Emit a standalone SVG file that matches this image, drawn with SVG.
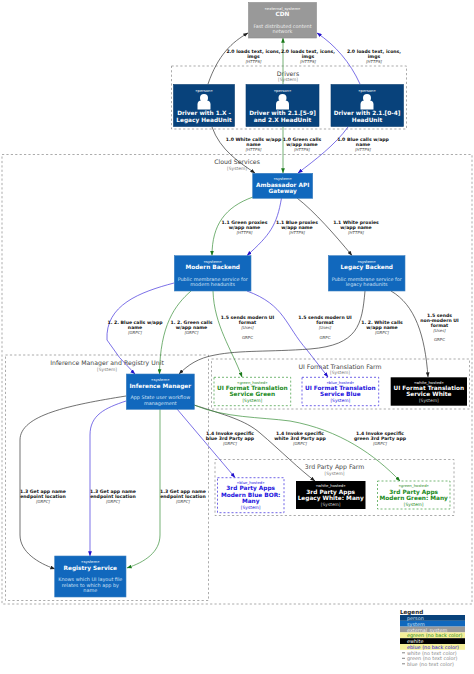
<svg xmlns="http://www.w3.org/2000/svg" width="474" height="674" viewBox="0 0 474 674">
<style>
text{font-family:"DejaVu Sans",sans-serif;text-anchor:middle}
.b{fill:none;stroke:#888;stroke-width:.7;stroke-dasharray:2.2 2.2}
.bt{font-size:6.2px;fill:#444}
.bs{font-size:4.4px;fill:#777}
.l{font-size:4.6px;font-weight:bold;fill:#111}
.li{font-size:4px;font-style:italic;fill:#444}
.lu{font-size:4px;fill:#444}
.st{font-size:3.8px;fill:#fff}
.t{font-size:5.8px;font-weight:bold;fill:#fff}
.d{font-size:4.9px;fill:#cfe0f5}
.e{fill:none;stroke-width:.7}
.k{stroke:#333;marker-end:url(#ak)}.g{stroke:#3a8f3a;marker-end:url(#ag)}.u{stroke:#4433dd;marker-end:url(#au)}
.sys{fill:#1168bd;stroke:#3c7fc0;stroke-width:.6}.per{fill:#08427b;stroke:#073b6f;stroke-width:.6}
.lg{font-size:4.9px;text-anchor:start}
</style>
<defs>
<marker id="ak" viewBox="0 0 8 6" refX="7.5" refY="3" markerWidth="5" markerHeight="4" markerUnits="userSpaceOnUse" orient="auto"><path d="M0 0L8 3L0 6z" fill="#222"/></marker>
<marker id="ag" viewBox="0 0 8 6" refX="7.5" refY="3" markerWidth="5" markerHeight="4" markerUnits="userSpaceOnUse" orient="auto"><path d="M0 0L8 3L0 6z" fill="#1a7a1a"/></marker>
<marker id="au" viewBox="0 0 8 6" refX="7.5" refY="3" markerWidth="5" markerHeight="4" markerUnits="userSpaceOnUse" orient="auto"><path d="M0 0L8 3L0 6z" fill="#2211cc"/></marker>
<g id="pi"><circle cx="0" cy="0" r="4" fill="#fff"/><path d="M-6.500 11.500v-5q0-4 4-4h5q4 0 4 4v5z" fill="#fff"/></g>
</defs>

<g id="boundaries">
<rect class="b" x="171.500" y="66" width="235" height="63"/>
<text class="bt" x="288" y="75.500">Drivers</text><text class="bs" x="288" y="81">[System]</text>
<rect class="b" x="2" y="154.500" width="470" height="449.500"/>
<text class="bt" x="237" y="164">Cloud Services</text><text class="bs" x="237" y="169.500">[System]</text>
<rect class="b" x="5.500" y="355" width="203" height="245.500"/>
<text class="bt" x="107" y="365">Inference Manager and Registry Unit</text><text class="bs" x="107" y="370.500">[System]</text>
<rect class="b" x="211.500" y="359" width="258" height="50"/>
<text class="bt" x="340" y="368.500">UI Format Translation Farm</text><text class="bs" x="340" y="373.500">[System]</text>
<rect class="b" x="215" y="459.500" width="239" height="56"/>
<text class="bt" x="334.500" y="469">3rd Party App Farm</text><text class="bs" x="334.500" y="474.500">[System]</text>
</g>

<g id="connectors">
<path class="e k" d="M208 84C218 55 232 42 248 33"/>
<path class="e g" d="M283 84V38"/>
<path class="e u" d="M360 84C350 62 335 45 317 33"/>
<path class="e k" d="M212 127C220 150 240 163 255 173"/>
<path class="e g" d="M283 127V173"/>
<path class="e u" d="M348 127C335 145 315 160 298 173"/>
<path class="e g" d="M253 197C225 207 212 225 212 255.500"/>
<path class="e u" d="M281.500 198C277 225 270 235 247 255.500"/>
<path class="e k" d="M297 198C315 212 335 235 352 255.500"/>
<path class="e u" d="M174 283C140 292 105 305 107 340Q118 358 135 374"/>
<path class="e g" d="M191 291C175 305 160 325 159.500 374"/>
<path class="e g" d="M213 291C214 325 232 350 242 377"/>
<path class="e u" d="M247 291C285 305 285 325 307 350L328 377"/>
<path class="e k" d="M365 291C362 325 358 345 310 349C270 352 240 350 215 355C198 358 188 365 179 374"/>
<path class="e k" d="M391 291C415 305 425 335 428 377"/>
<path class="e k" d="M126 396C70 405 20 415 20 440V535C20 552 38 563 55 569"/>
<path class="e u" d="M126 401C105 408 90 415 90 435V556"/>
<path class="e g" d="M160 409V535C160 552 145 562 127 568"/>
<path class="e u" d="M177 409L235 477.500"/>
<path class="e k" d="M194 405C225 415 245 420 260 433C280 450 300 470 315 481"/>
<path class="e g" d="M194 405C225 418 260 417 290 421C340 430 375 455 400 481"/>
</g>

<g id="edge-labels">
<g><text class="l" x="253.500" y="52.500">2.0 loads text, icons,</text><text class="l" x="253.500" y="57.500">imgs</text><text class="li" x="253.500" y="62.500">[HTTPS]</text></g>
<g><text class="l" x="308" y="52.500">2.0 loads text, icons,</text><text class="l" x="308" y="57.500">imgs</text><text class="li" x="308" y="62.500">[HTTPS]</text></g>
<g><text class="l" x="374" y="52.500">2.0 loads text, icons,</text><text class="l" x="374" y="57.500">imgs</text><text class="li" x="374" y="62.500">[HTTPS]</text></g>
<g><text class="l" x="253.500" y="141">1.0 White calls w/app</text><text class="l" x="253.500" y="146">name</text><text class="li" x="253.500" y="151">[HTTPS]</text></g>
<g><text class="l" x="302" y="141">1.0 Green calls</text><text class="l" x="302" y="146">w/app name</text><text class="li" x="302" y="151">[HTTPS]</text></g>
<g><text class="l" x="363" y="141">1.0 Blue calls w/app</text><text class="l" x="363" y="146">name</text><text class="li" x="363" y="151">[HTTPS]</text></g>
<g><text class="l" x="244.500" y="223.500">1.1 Green proxies</text><text class="l" x="244.500" y="228.500">w/app name</text><text class="li" x="244.500" y="233.500">[HTTPS]</text></g>
<g><text class="l" x="297" y="223.500">1.1 Blue proxies</text><text class="l" x="297" y="228.500">w/app name</text><text class="li" x="297" y="233.500">[HTTPS]</text></g>
<g><text class="l" x="356" y="223.500">1.1 White proxies</text><text class="l" x="356" y="228.500">w/app name</text><text class="li" x="356" y="233.500">[HTTPS]</text></g>
<g><text class="l" x="135" y="324">1. 2. Blue calls w/app</text><text class="l" x="135" y="329">name</text><text class="li" x="135" y="334">[GRPC]</text></g>
<g><text class="l" x="191.500" y="324">1. 2. Green calls</text><text class="l" x="191.500" y="329">w/app name</text><text class="li" x="191.500" y="334">[GRPC]</text></g>
<g><text class="l" x="247.500" y="319">1.5 sends modern UI</text><text class="l" x="247.500" y="324">format</text><text class="li" x="247.500" y="329">[Uses]</text><text class="lu" x="247.500" y="339">GRPC</text></g>
<g><text class="l" x="325" y="319">1.5 sends modern UI</text><text class="l" x="325" y="324">format</text><text class="li" x="325" y="329">[Uses]</text><text class="lu" x="325" y="339">GRPC</text></g>
<g><text class="l" x="382" y="324">1. 2. White calls</text><text class="l" x="382" y="329">w/app name</text><text class="li" x="382" y="334">[GRPC]</text></g>
<g><text class="l" x="439.500" y="316.500">1.5 sends</text><text class="l" x="439.500" y="321.500">non-modern UI</text><text class="l" x="439.500" y="326.500">format</text><text class="li" x="439.500" y="331.500">[Uses]</text><text class="lu" x="439.500" y="341">GRPC</text></g>
<g><text class="l" x="230" y="435">1.4 Invoke specific</text><text class="l" x="230" y="440">blue 3rd Party app</text><text class="li" x="230" y="445">[GRPC]</text></g>
<g><text class="l" x="300" y="435">1.4 Invoke specific</text><text class="l" x="300" y="440">white 3rd Party app</text><text class="li" x="300" y="445">[GRPC]</text></g>
<g><text class="l" x="380" y="435">1.4 Invoke specific</text><text class="l" x="380" y="440">green 3rd Party app</text><text class="li" x="380" y="445">[GRPC]</text></g>
<g><text class="l" x="43" y="492.500">1.3 Get app name</text><text class="l" x="43" y="497.500">endpoint location</text><text class="li" x="43" y="502.500">[GRPC]</text></g>
<g><text class="l" x="113" y="492.500">1.3 Get app name</text><text class="l" x="113" y="497.500">endpoint location</text><text class="li" x="113" y="502.500">[GRPC]</text></g>
<g><text class="l" x="183" y="492.500">1.3 Get app name</text><text class="l" x="183" y="497.500">endpoint location</text><text class="li" x="183" y="502.500">[GRPC]</text></g>
</g>

<g id="cdn"><rect x="248.500" y="2.500" width="68" height="35.500" fill="#999" stroke="#8a8a8a" stroke-width=".6"/>
<text class="st" x="282.500" y="9.500">«external_system»</text><text class="t" x="282.500" y="16">CDN</text><text class="d" x="282.500" y="27.500" style="fill:#eee">Fast distributed content</text><text class="d" x="282.500" y="33" style="fill:#eee">network</text></g>

<g id="driver1"><rect class="per" x="173.500" y="84.500" width="61" height="42"/><text class="st" x="204" y="92">«person»</text><use href="#pi" x="204" y="98"/><text class="t" x="204" y="115">Driver with 1.X -</text><text class="t" x="204" y="121.500">Legacy HeadUnit</text></g>
<g id="driver2"><rect class="per" x="246" y="84.500" width="73" height="42"/><text class="st" x="282.500" y="92">«person»</text><use href="#pi" x="282.500" y="98"/><text class="t" x="282.500" y="115">Driver with 2.1.[5-9]</text><text class="t" x="282.500" y="121.500">and 2.X HeadUnit</text></g>
<g id="driver3"><rect class="per" x="331" y="84.500" width="72.500" height="42"/><text class="st" x="367" y="92">«person»</text><use href="#pi" x="367" y="98"/><text class="t" x="367" y="115">Driver with 2.1.[0-4]</text><text class="t" x="367" y="121.500">HeadUnit</text></g>

<g id="gateway"><rect class="sys" x="252.700" y="173.300" width="60" height="25"/><text class="st" x="282.700" y="180">«system»</text><text class="t" x="282.700" y="186.800">Ambassador API</text><text class="t" x="282.700" y="193">Gateway</text></g>
<g id="modern"><rect class="sys" x="174.300" y="255.700" width="76.700" height="35.300"/><text class="st" x="212.700" y="262.500">«system»</text><text class="t" x="212.700" y="269">Modern Backend</text><text class="d" x="212.700" y="280.500">Public membrane service for</text><text class="d" x="212.700" y="286">modern headunits</text></g>
<g id="legacy"><rect class="sys" x="328.300" y="255.700" width="76.700" height="35.300"/><text class="st" x="366.700" y="262.500">«system»</text><text class="t" x="366.700" y="269">Legacy Backend</text><text class="d" x="366.700" y="280.500">Public membrane service for</text><text class="d" x="366.700" y="286">legacy headunits</text></g>
<g id="inference"><rect class="sys" x="126.300" y="374" width="68" height="35.300"/><text class="st" x="160.300" y="381">«system»</text><text class="t" x="160.300" y="387.800">Inference Manager</text><text class="d" x="160.300" y="399.300">App State user workflow</text><text class="d" x="160.300" y="404.800">management</text></g>
<g id="registry"><rect class="sys" x="54.700" y="556" width="71.300" height="41"/><text class="st" x="90.300" y="563">«system»</text><text class="t" x="90.300" y="569.700">Registry Service</text><text class="d" x="90.300" y="581">Knows which UI layout file</text><text class="d" x="90.300" y="586.500">relates to which app by</text><text class="d" x="90.300" y="592">name</text></g>

<g id="ui-green"><rect x="214" y="377.300" width="76.700" height="28.400" fill="#fff" stroke="#3a9a3a" stroke-width=".7" stroke-dasharray="2 2"/><text class="st" x="252.300" y="383.500" style="fill:#1a8a1a">«green_hosted»</text><text class="t" x="252.300" y="390" style="fill:#1a8a1a">UI Format Translation</text><text class="t" x="252.300" y="396.300" style="fill:#1a8a1a">Service Green</text><text class="bs" x="252.300" y="401.500" style="fill:#1a8a1a">[System]</text></g>
<g id="ui-blue"><rect x="302" y="377.300" width="76.700" height="28.400" fill="#fff" stroke="#3322dd" stroke-width=".7" stroke-dasharray="2 2"/><text class="st" x="340.300" y="383.500" style="fill:#2211dd">«blue_hosted»</text><text class="t" x="340.300" y="390" style="fill:#2211dd">UI Format Translation</text><text class="t" x="340.300" y="396.300" style="fill:#2211dd">Service Blue</text><text class="bs" x="340.300" y="401.500" style="fill:#2211dd">[System]</text></g>
<g id="ui-white"><rect x="390.700" y="377.300" width="76.300" height="28.400" fill="#000"/><text class="st" x="428.800" y="383.500">«white_hosted»</text><text class="t" x="428.800" y="390">UI Format Translation</text><text class="t" x="428.800" y="396.300">Service White</text><text class="bs" x="428.800" y="401.500" style="fill:#ccc">[System]</text></g>

<g id="app-blue"><rect x="217.500" y="477.700" width="66.500" height="35" fill="#fff" stroke="#3322dd" stroke-width=".7" stroke-dasharray="2 2"/><text class="st" x="250.700" y="483.500" style="fill:#2211dd">«blue_hosted»</text><text class="t" x="250.700" y="490" style="fill:#2211dd">3rd Party Apps</text><text class="t" x="250.700" y="496.500" style="fill:#2211dd">Modern Blue BOR:</text><text class="t" x="250.700" y="503" style="fill:#2211dd">Many</text><text class="bs" x="250.700" y="508.500" style="fill:#2211dd">[System]</text></g>
<g id="app-white"><rect x="296" y="481" width="69.500" height="28" fill="#000"/><text class="st" x="330.700" y="487">«white_hosted»</text><text class="t" x="330.700" y="493.500">3rd Party Apps</text><text class="t" x="330.700" y="500">Legacy White: Many</text><text class="bs" x="330.700" y="505.500" style="fill:#ccc">[System]</text></g>
<g id="app-green"><rect x="377.500" y="481" width="72.500" height="28" fill="#fff" stroke="#3a9a3a" stroke-width=".7" stroke-dasharray="2 2"/><text class="st" x="413.700" y="487" style="fill:#1a8a1a">«green_hosted»</text><text class="t" x="413.700" y="493.500" style="fill:#1a8a1a">3rd Party Apps</text><text class="t" x="413.700" y="500" style="fill:#1a8a1a">Modern Green: Many</text><text class="bs" x="413.700" y="505.500" style="fill:#1a8a1a">[System]</text></g>

<g id="legend">
<text x="400" y="614" style="font-size:5.600px;font-weight:bold;text-anchor:start;fill:#222">Legend</text>
<rect x="400" y="615" width="65" height="5.800" fill="#08427b"/>
<rect x="400" y="620.800" width="65" height="5.800" fill="#1168bd"/>
<rect x="400" y="626.600" width="65" height="5.800" fill="#999"/>
<rect x="400" y="632.400" width="65" height="5.800" fill="#f5ef9a"/>
<rect x="400" y="638.200" width="65" height="5.800" fill="#000"/>
<rect x="400" y="644" width="65" height="5.800" fill="#f5ef9a"/>
<text class="lg" x="407" y="620" fill="#cfe0f5">person</text>
<text class="lg" x="407" y="625.800" fill="#cfe0f5">system</text>
<text class="lg" x="407" y="631.600" fill="#eee">external_system</text>
<text class="lg" x="407" y="637.400" fill="#1a8a1a">egreen (no back color)</text>
<text class="lg" x="407" y="643.200" fill="#fff">ewhite</text>
<text class="lg" x="407" y="649" fill="#2211dd">eblue (no back color)</text>
<text class="lg" x="407" y="654.500" fill="#888">white (no text color)</text>
<text class="lg" x="407" y="660" fill="#888">green (no text color)</text>
<text class="lg" x="407" y="665.500" fill="#888">blue (no text color)</text>
<path d="M402 652.800h3M402 658.300h3M402 663.800h3" stroke="#666" stroke-width=".8"/>
</g>
</svg>
